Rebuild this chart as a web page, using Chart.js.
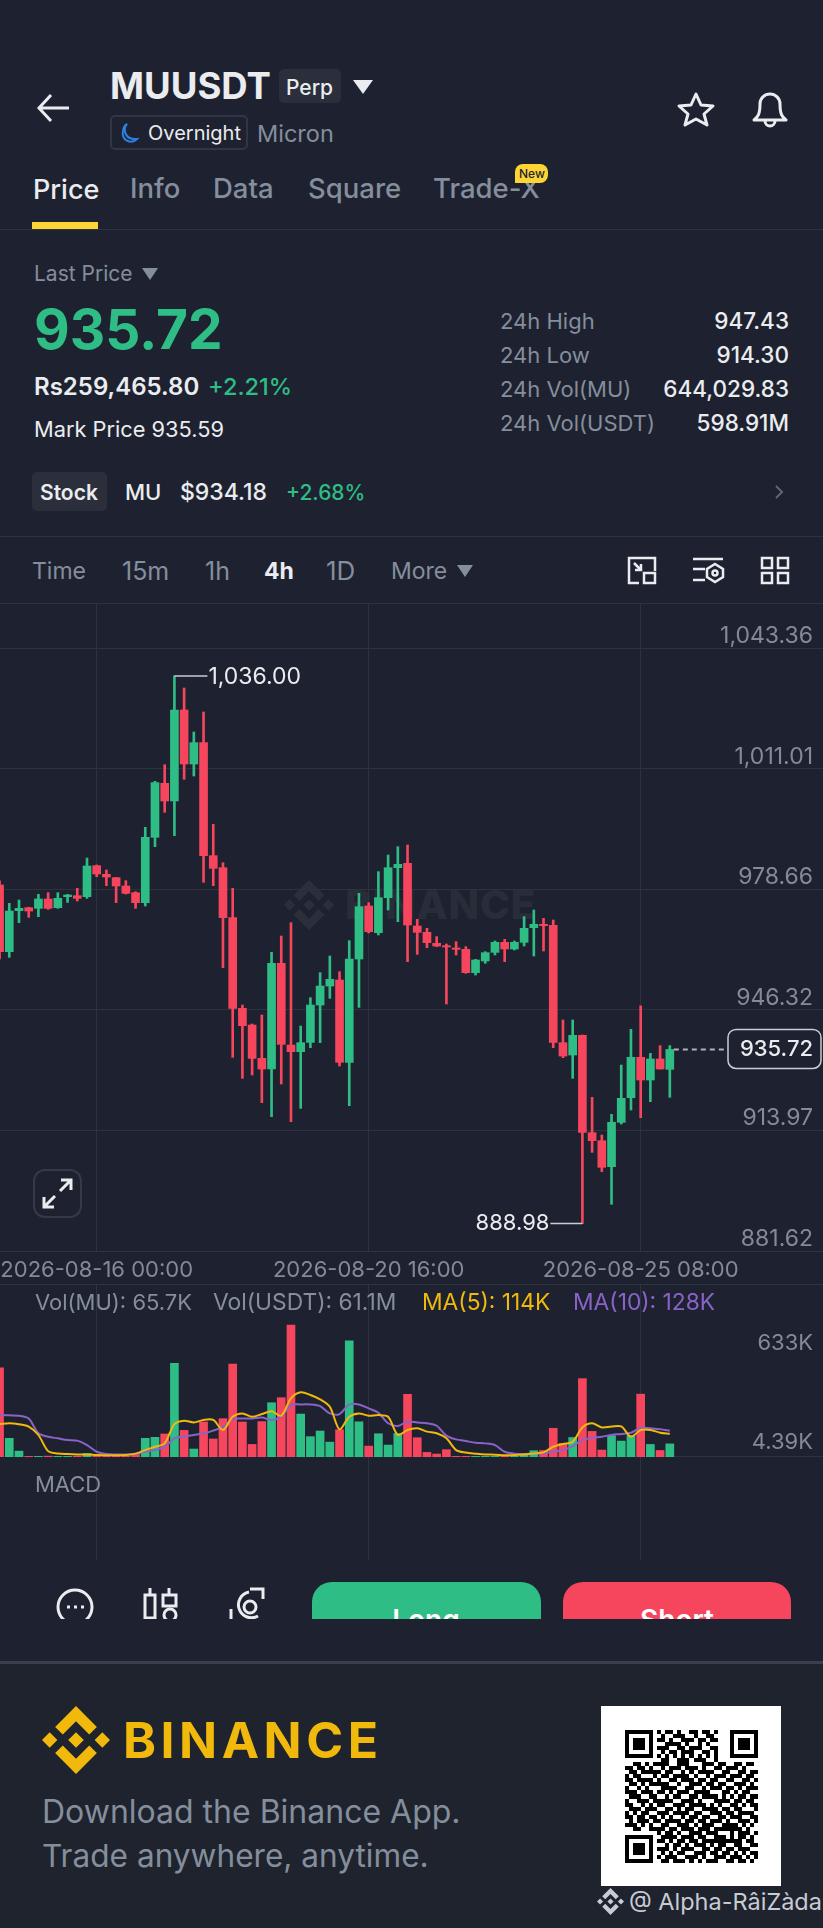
<!DOCTYPE html>
<html>
<head>
<meta charset="utf-8">
<title>MUUSDT</title>
<script src="https://cdn.jsdelivr.net/npm/chart.js@4"></script>
<style>
  html, body { margin: 0; padding: 0; background: #1e2230; }
  body { position: relative; width: 823px; height: 1928px; overflow: hidden; font-family: Inter, "Noto Sans", sans-serif; color: #eaecef; }
  .t { position: absolute; white-space: nowrap; transform: translateY(-50%); line-height: 1; }
  .r { transform: translate(-100%, -50%); }
  .gray { color: #848e9c; }
  .green { color: #2ebd85; }
  .line { position: absolute; left: 0; width: 823px; height: 1px; background: #2d323e; }
  .tri { position: absolute; width: 0; height: 0; border-left: 8px solid transparent; border-right: 8px solid transparent; border-top: 12px solid #848e9c; }
  .box { position: absolute; box-sizing: border-box; border-radius: 5px; }
  svg { position: absolute; overflow: visible; }
  canvas { position: absolute; left: 0; }
  #clip { position: absolute; left: 0; top: 1570px; width: 823px; height: 49px; overflow: hidden; }
</style>
</head>
<body>

<!-- header -->
<svg style="left:37px;top:93px" width="33" height="30" fill="none" stroke="#eaecef" stroke-width="3"><path d="M32 15H2M14 2L2 15l12 13"/></svg>
<div class="t" style="left:110px;top:86px;font-size:36.500px;font-weight:700">MUUSDT</div>
<div class="box" style="left:279px;top:69px;width:62px;height:34px;background:#2a2f3b"></div>
<div class="t" style="left:286px;top:87px;font-size:21px;font-weight:500">Perp</div>
<div class="tri" style="left:353px;top:80px;border-left-width:10px;border-right-width:10px;border-top:14px solid #eaecef"></div>
<div class="box" style="left:110px;top:115px;width:138px;height:35px;border:2px solid #313644"></div>
<svg style="left:120px;top:122px" width="20" height="22" fill="none" stroke="#2f80e0" stroke-width="2"><path d="M7 2C3 7 4 18 17 17C11 23 1 18 3 9C3.500 6 5 3 7 2Z"/></svg>
<div class="t" style="left:148px;top:133px;font-size:20px">Overnight</div>
<div class="t gray" style="left:257px;top:134px;font-size:23.500px">Micron</div>
<svg style="left:677px;top:91px" width="38" height="36" fill="none" stroke="#eaecef" stroke-width="3" stroke-linejoin="round"><path d="M19 3l5 11 12 1-9 8 3 11-11-6-11 6 3-11-9-8 12-1z"/></svg>
<svg style="left:752px;top:90px" width="36" height="38" fill="none" stroke="#eaecef" stroke-width="3" stroke-linejoin="round"><path d="M8 14a10 10 0 0 1 20 0c0 10 2 13 6 16H2c4-3 6-6 6-16zM13 31a5 5 0 0 0 10 0"/></svg>

<!-- tabs -->
<div class="t" style="left:33px;top:189px;font-size:27px;font-weight:500">Price</div>
<div class="t gray" style="left:130px;top:189px;font-size:27.500px;font-weight:500">Info</div>
<div class="t gray" style="left:213px;top:189px;font-size:27.500px;font-weight:500">Data</div>
<div class="t gray" style="left:308px;top:189px;font-size:27.500px;font-weight:500">Square</div>
<div class="t gray" style="left:433px;top:189px;font-size:27.500px;font-weight:500">Trade-X</div>
<div class="box" style="left:515px;top:164px;width:33px;height:19px;background:#fcd535;border-radius:8px 8px 8px 0"></div>
<div class="t" style="left:519px;top:174px;font-size:12px;font-weight:500;color:#1e2230">New</div>
<div style="position:absolute;left:32px;top:222px;width:66px;height:7px;background:#fcd535"></div>
<div class="line" style="top:229px"></div>

<!-- price block -->
<div class="t gray" style="left:34px;top:273px;font-size:21px">Last Price</div>
<div class="tri" style="left:142px;top:268px"></div>
<div class="t green" style="left:34px;top:329px;font-size:55px;font-weight:700">935.72</div>
<div class="t" style="left:34px;top:387px;font-size:24px;font-weight:600">Rs259,465.80</div>
<div class="t green" style="left:208px;top:387px;font-size:23.500px;font-weight:500">+2.21%</div>
<div class="t" style="left:34px;top:430px;font-size:21.800px">Mark Price 935.59</div>

<div class="t gray" style="left:500px;top:321px;font-size:22px">24h High</div>
<div class="t gray" style="left:500px;top:355px;font-size:22px">24h Low</div>
<div class="t gray" style="left:500px;top:389px;font-size:22px">24h Vol(MU)</div>
<div class="t gray" style="left:500px;top:423px;font-size:22px">24h Vol(USDT)</div>
<div class="t r" style="left:789px;top:321px;font-size:22.500px;font-weight:500">947.43</div>
<div class="t r" style="left:789px;top:355px;font-size:22.500px;font-weight:500">914.30</div>
<div class="t r" style="left:789px;top:389px;font-size:22.500px;font-weight:500">644,029.83</div>
<div class="t r" style="left:789px;top:423px;font-size:22.500px;font-weight:500">598.91M</div>

<div class="box" style="left:32px;top:472px;width:75px;height:39px;background:#2a2f3b"></div>
<div class="t" style="left:40px;top:492px;font-size:21px;font-weight:600">Stock</div>
<div class="t" style="left:125px;top:492px;font-size:22px;font-weight:500">MU</div>
<div class="t" style="left:180px;top:492px;font-size:23px;font-weight:500">$934.18</div>
<div class="t green" style="left:286px;top:492px;font-size:21px;font-weight:500">+2.68%</div>
<svg style="left:774px;top:485px" width="10" height="14" fill="none" stroke="#5e6673" stroke-width="2"><path d="M2 1l6 6-6 6"/></svg>
<div class="line" style="top:536px"></div>

<!-- timeframes -->
<div class="t gray" style="left:32px;top:571px;font-size:23px">Time</div>
<div class="t gray" style="left:122px;top:571px;font-size:25px">15m</div>
<div class="t gray" style="left:205px;top:571px;font-size:25px">1h</div>
<div class="t" style="left:264px;top:571px;font-size:23px;font-weight:700">4h</div>
<div class="t gray" style="left:326px;top:571px;font-size:26px">1D</div>
<div class="t gray" style="left:391px;top:571px;font-size:23px">More</div>
<div class="tri" style="left:457px;top:565px"></div>
<svg style="left:627px;top:556px" width="30" height="28" fill="none" stroke="#eaecef" stroke-width="2.500"><path d="M12 27H2V2h26v13M7 7l7 7M14 8v6H8"/><rect x="17" y="17" width="11" height="10"/></svg>
<svg style="left:692px;top:556px" width="32" height="28" fill="none" stroke="#eaecef" stroke-width="2.500"><path d="M1 3h30M1 13h12M1 24h12"/><path d="M23 8l8 5v8l-8 5-8-5v-8z"/><circle cx="23" cy="17" r="2.500"/></svg>
<svg style="left:760px;top:556px" width="29" height="28" fill="none" stroke="#eaecef" stroke-width="2.500"><rect x="2" y="2" width="10" height="10"/><rect x="18" y="2" width="10" height="10"/><rect x="2" y="17" width="10" height="10"/><rect x="18" y="17" width="10" height="10"/></svg>
<div class="line" style="top:603px"></div>

<!-- watermark sits behind the candle canvas -->
<svg style="left:284px;top:880px" width="50" height="50" viewBox="0 0 126.610 126.610" fill="#2a2f3b"><path d="M38.730 53.200l24.590-24.580 24.600 24.600 14.300-14.310L63.320 0 24.430 38.900zM0 63.310l14.300-14.310 14.310 14.310-14.310 14.300zM38.730 73.410l24.590 24.590 24.600-24.600 14.310 14.290-38.900 38.910-38.910-38.880zM98 63.310l14.300-14.310 14.310 14.300-14.310 14.320zM77.830 63.300L63.320 48.780 52.590 59.510l-1.240 1.230-2.540 2.540 14.510 14.500 14.510-14.470z"/></svg>
<div class="t" style="left:345px;top:905px;font-size:40px;font-weight:800;color:#282d39;letter-spacing:1px">BINANCE</div>

<canvas id="candleChart" width="823" height="682" style="top:603px"></canvas>
<canvas id="volChart" width="823" height="275" style="top:1285px"></canvas>
<div class="line" style="top:1284px"></div>

<div class="box" style="left:33px;top:1169px;width:49px;height:49px;border:2px solid #353a47;border-radius:12px"></div>
<svg style="left:42px;top:1178px" width="31" height="31" fill="none" stroke="#eaecef" stroke-width="3"><path d="M18 13L29 2M19 2h10v10M13 18L2 29M2 19v10h10"/></svg>

<!-- indicator legend -->
<div class="t gray" style="left:35px;top:1302px;font-size:22px">Vol(MU): 65.7K</div>
<div class="t gray" style="left:213px;top:1302px;font-size:22.800px">Vol(USDT): 61.1M</div>
<div class="t" style="left:422px;top:1302px;font-size:22.800px;color:#f0b90b">MA(5): 114K</div>
<div class="t" style="left:573px;top:1302px;font-size:22.800px;color:#8a63c9">MA(10): 128K</div>
<div class="t gray" style="left:35px;top:1484px;font-size:22px">MACD</div>

<!-- action bar, cut off by the screenshot -->
<div id="clip">
  <svg style="left:56px;top:17px" width="38" height="40" fill="none" stroke="#eaecef" stroke-width="3"><circle cx="19" cy="20" r="17"/><path d="M11 20h3M18 20h3M25 20h3"/></svg>
  <svg style="left:143px;top:16px" width="36" height="40" fill="none" stroke="#eaecef" stroke-width="3"><rect x="2" y="9" width="10" height="23"/><path d="M7 2v7M7 32v6M26 2v7"/><rect x="20" y="9" width="13" height="11"/><circle cx="27" cy="29" r="6"/></svg>
  <svg style="left:229px;top:17px" width="36" height="40" fill="none" stroke="#eaecef" stroke-width="3"><path d="M21 2h13v10M2 22v12"/><path d="M20 5a13 13 0 1 0 9 24"/><circle cx="21" cy="20" r="6"/></svg>
  <div class="box" style="left:312px;top:12px;width:229px;height:70px;background:#2ebd85;border-radius:20px"></div>
  <div class="box" style="left:563px;top:12px;width:228px;height:70px;background:#f6465d;border-radius:20px"></div>
  <div class="t" style="left:426px;top:50px;font-size:28px;font-weight:600;color:#fff;transform:translate(-50%,-50%)">Long</div>
  <div class="t" style="left:677px;top:50px;font-size:28px;font-weight:600;color:#fff;transform:translate(-50%,-50%)">Short</div>
</div>

<!-- footer -->
<div style="position:absolute;left:0;top:1661px;width:823px;height:3px;background:#3a3f4c"></div>
<div style="position:absolute;left:0;top:1664px;width:823px;height:264px;background:#1e232e"></div>
<svg style="left:42px;top:1706px" width="68" height="68" viewBox="0 0 126.610 126.610" fill="#f0b90b"><path d="M38.730 53.200l24.590-24.580 24.600 24.600 14.300-14.310L63.320 0 24.430 38.900zM0 63.310l14.300-14.310 14.310 14.310-14.310 14.300zM38.730 73.410l24.590 24.590 24.600-24.600 14.310 14.290-38.900 38.910-38.910-38.880zM98 63.310l14.300-14.310 14.310 14.300-14.310 14.320zM77.830 63.300L63.320 48.780 52.590 59.510l-1.240 1.230-2.540 2.540 14.510 14.500 14.510-14.470z"/></svg>
<div class="t" style="left:123px;top:1740px;font-size:50px;font-weight:700;color:#f0b90b;letter-spacing:4.500px">BINANCE</div>
<div class="t gray" style="left:42px;top:1812px;font-size:32px">Download the Binance App.</div>
<div class="t gray" style="left:42px;top:1856px;font-size:31.600px">Trade anywhere, anytime.</div>
<div style="position:absolute;left:601px;top:1706px;width:180px;height:180px;background:#fff"></div>
<svg id="qr" style="left:625px;top:1730px" width="133" height="133" viewBox="0 0 33 33" shape-rendering="crispEdges"></svg>
<svg style="left:597px;top:1888px" width="27" height="27" viewBox="0 0 126.610 126.610" fill="#c7ccd4"><path d="M38.730 53.200l24.590-24.580 24.600 24.600 14.300-14.310L63.320 0 24.430 38.900zM0 63.310l14.300-14.310 14.310 14.310-14.310 14.300zM38.730 73.410l24.590 24.590 24.600-24.600 14.310 14.290-38.900 38.910-38.910-38.880zM98 63.310l14.300-14.310 14.310 14.300-14.310 14.320zM77.830 63.300L63.320 48.780 52.590 59.510l-1.240 1.230-2.540 2.540 14.510 14.500 14.510-14.470z"/></svg>
<div class="t" style="left:629px;top:1902px;font-size:23.500px;color:#c7ccd4">@ Alpha-RâiZàda</div>

<script>
// 4h candles, left to right
const opens = [
  979.87, 961.97, 972.98, 973.78, 973.60, 976.11, 973.78, 976.74, 977.00, 976.74,
  985.06, 982.73, 981.84, 979.60, 977.81, 975.13, 992.67, 1007.16, 1002.42, 1026.85,
  1012.35, 1018.08, 987.74, 984.52, 971.10, 946.76, 942.28, 933.33, 930.47, 958.84,
  936.91, 935.12, 937.63, 947.65, 952.75, 954.36, 932.26, 960.00, 974.23, 967.07,
  976.47, 984.52, 985.69, 968.86, 967.16, 964.21, 963.58, 962.96, 962.60, 956.34,
  959.47, 961.79, 964.48, 962.69, 964.48, 968.42, 969.31, 969.04, 937.54, 934.23,
  939.51, 913.38, 911.23, 904.26, 916.16, 922.78, 933.61, 927.52, 933.16, 930.39
];
const closes = [
  961.97, 972.89, 973.60, 972.89, 976.11, 973.60, 976.29, 977.18, 976.29, 984.97,
  982.82, 982.02, 979.60, 977.63, 975.13, 992.67, 1007.34, 1002.42, 1026.85, 1012.35,
  1018.08, 987.74, 984.34, 971.10, 946.76, 942.10, 933.33, 930.47, 958.84, 937.09,
  935.12, 937.54, 947.65, 952.75, 954.54, 932.26, 960.00, 974.05, 967.34, 976.47,
  984.52, 985.42, 969.13, 967.16, 964.39, 963.49, 963.23, 962.60, 956.34, 959.74,
  961.70, 964.48, 962.69, 964.48, 968.24, 969.31, 968.95, 937.63, 933.96, 939.51,
  913.47, 911.23, 904.08, 916.16, 922.60, 933.61, 927.52, 933.16, 930.48, 935.72
];
const highs = [
  981.00, 974.95, 975.84, 973.90, 977.36, 977.81, 977.81, 977.36, 978.97, 987.12,
  985.24, 983.90, 981.93, 981.03, 978.08, 995.35, 1007.70, 1012.17, 1036.00, 1032.75,
  1020.94, 1026.31, 996.15, 985.86, 978.97, 947.65, 942.55, 944.97, 961.79, 966.17,
  969.75, 942.01, 949.62, 956.33, 960.81, 956.60, 964.92, 977.63, 975.13, 983.45,
  987.92, 990.16, 990.61, 970.65, 968.24, 966.00, 964.03, 964.66, 963.32, 959.91,
  961.97, 964.84, 965.28, 964.84, 971.37, 973.16, 970.92, 970.47, 943.63, 943.63,
  939.60, 922.87, 912.76, 918.31, 931.55, 941.12, 947.43, 934.68, 936.74, 936.74
];
const lows = [
  960.00, 960.45, 969.76, 971.19, 971.37, 973.34, 973.60, 975.21, 975.57, 976.29,
  982.10, 979.69, 975.13, 977.45, 973.60, 974.23, 990.16, 999.38, 993.11, 1008.24,
  1009.13, 980.58, 979.69, 957.67, 933.60, 927.96, 928.86, 921.43, 917.67, 926.44,
  916.33, 919.91, 936.20, 937.54, 949.44, 931.27, 920.63, 947.03, 967.00, 966.45,
  973.16, 970.02, 959.29, 961.26, 963.05, 963.32, 947.92, 961.08, 956.16, 955.71,
  958.84, 961.08, 959.29, 962.42, 963.49, 960.81, 962.15, 936.20, 933.52, 927.97,
  888.98, 908.10, 902.91, 894.14, 915.71, 919.47, 917.41, 921.70, 930.48, 922.87
];
// volume in K
const volumes = [
  429, 92, 31, 6, 6, 7, 6, 6, 7, 20,
  6, 6, 9, 8, 14, 92, 97, 113, 450, 130,
  41, 170, 89, 186, 447, 170, 63, 172, 262, 286,
  633, 208, 100, 127, 74, 133, 557, 171, 55, 114,
  60, 115, 302, 95, 25, 17, 38, 6, 6, 6,
  6, 6, 9, 7, 17, 33, 34, 140, 68, 96,
  377, 125, 36, 105, 79, 105, 303, 63, 34, 65.7
];
const ma5 = [
  160, 164, 159, 148, 108, 31, 20, 17, 15, 15,
  12, 11, 11, 12, 19, 36, 52, 68, 160, 176,
  168, 180, 180, 132, 195, 211, 195, 208, 221, 200,
  283, 312, 299, 278, 243, 135, 195, 211, 200, 203,
  195, 108, 132, 140, 124, 116, 92, 36, 24, 19,
  15, 14, 11, 12, 15, 20, 25, 52, 65, 76,
  144, 164, 144, 148, 149, 100, 132, 132, 119, 114
];
const ma10 = [
  205, 202, 200, 187, 116, 100, 92, 84, 81, 60,
  28, 17, 15, 15, 17, 28, 36, 52, 92, 100,
  108, 116, 129, 148, 184, 187, 187, 191, 180, 195,
  251, 254, 254, 246, 211, 208, 254, 254, 235, 214,
  164, 151, 172, 168, 164, 152, 105, 87, 79, 71,
  68, 60, 28, 19, 17, 20, 20, 28, 36, 55,
  84, 94, 100, 108, 113, 119, 143, 140, 136, 128
];

const priceTicks = [881.62, 913.97, 946.32, 978.66, 1011.01, 1043.36];
const priceLabels = ['881.62', '913.97', '946.32', '978.66', '1,011.01', '1,043.36'];
const timeTicks = [10, 38, 66];
const timeLabels = ['2026-08-16 00:00', '2026-08-20 16:00', '2026-08-25 08:00'];
const volTicks = [4.39, 633];
const volLabels = ['4.39K', '633K'];

const UP = '#2ebd85', DOWN = '#f6465d', GRID = '#2d323e', AXIS_TEXT = '#848a96';
const FONT = 'Inter, "Noto Sans", sans-serif';
const X_MIN = 0.045, X_MAX = 84.77;

const candleColors = opens.map((o, i) => closes[i] >= o ? UP : DOWN);

// keep the plot area edge to edge, labels may not push it in
function noPadding(s) {
  s.paddingTop = 0; s.paddingBottom = 0; s.paddingLeft = 0; s.paddingRight = 0;
}

function sharedX(showLabels) {
  return {
    type: 'linear', min: X_MIN, max: X_MAX, offset: false,
    afterBuildTicks: s => { s.ticks = timeTicks.map(v => ({ value: v })); },
    afterFit: s => { s.height = showLabels ? 34 : 0; noPadding(s); },
    grid: { color: GRID, lineWidth: 1, drawTicks: false, offset: false },
    border: { display: false },
    ticks: {
      display: showLabels, autoSkip: false, maxRotation: 0, padding: 6,
      color: AXIS_TEXT, font: { family: FONT, size: 22 },
      callback: v => timeLabels[timeTicks.indexOf(v)]
    }
  };
}

// labels for the highest and lowest wick plus the live price tag
const priceMarks = {
  id: 'priceMarks',
  afterDatasetsDraw(chart) {
    const { ctx, scales: { x, y } } = chart;
    ctx.save();
    ctx.font = '23px ' + FONT;
    ctx.textBaseline = 'middle';
    ctx.strokeStyle = '#c9ccd2';
    ctx.lineWidth = 1.5;

    const hi = highs.indexOf(Math.max(...highs));
    const hx = x.getPixelForValue(hi), hy = y.getPixelForValue(highs[hi]);
    ctx.beginPath(); ctx.moveTo(hx, hy); ctx.lineTo(hx + 33, hy); ctx.stroke();
    ctx.fillStyle = '#eaecef';
    ctx.textAlign = 'left';
    ctx.fillText('1,036.00', hx + 34, hy + 1);

    const lo = lows.indexOf(Math.min(...lows));
    const lx = x.getPixelForValue(lo), ly = y.getPixelForValue(lows[lo]);
    ctx.beginPath(); ctx.moveTo(lx, ly); ctx.lineTo(lx - 32, ly); ctx.stroke();
    ctx.textAlign = 'right';
    ctx.font = '22px ' + FONT;
    ctx.fillText('888.98', lx - 33, ly);

    const last = closes.length - 1;
    const px = x.getPixelForValue(last), py = y.getPixelForValue(closes[last]);
    ctx.setLineDash([5, 4]);
    ctx.lineWidth = 2;
    ctx.strokeStyle = '#aeb2ba';
    ctx.beginPath(); ctx.moveTo(px + 4, py); ctx.lineTo(728, py); ctx.stroke();
    ctx.setLineDash([]);
    ctx.lineWidth = 1.5;
    ctx.strokeStyle = '#c9ccd2';
    ctx.fillStyle = '#1e2230';
    ctx.beginPath(); ctx.roundRect(728, py - 20, 93, 39, 8); ctx.fill(); ctx.stroke();
    ctx.fillStyle = '#eaecef';
    ctx.font = '500 22px ' + FONT;
    ctx.fillText('935.72', 813, py);
    ctx.restore();
  }
};

new Chart(document.getElementById('candleChart').getContext('2d'), {
  type: 'bar',
  data: {
    datasets: [
      {
        label: 'wick',
        data: lows.map((l, i) => ({ x: i, y: [l, highs[i]] })),
        backgroundColor: candleColors,
        barThickness: 2, grouped: false
      },
      {
        label: 'body',
        data: opens.map((o, i) => ({ x: i, y: [o, closes[i]] })),
        backgroundColor: candleColors,
        barThickness: 8, grouped: false
      }
    ]
  },
  options: {
    responsive: false,
    animation: false,
    layout: { padding: 0 },
    plugins: { legend: { display: false }, tooltip: { enabled: false } },
    scales: {
      x: sharedX(true),
      y: {
        position: 'right', min: 881.62, max: 1055.57,
        afterBuildTicks: s => { s.ticks = priceTicks.map(v => ({ value: v })); },
        afterFit: s => { s.width = 0; noPadding(s); },
        grid: { color: GRID, lineWidth: 1, drawTicks: false },
        border: { display: false },
        ticks: {
          mirror: true, padding: -10, labelOffset: -12,
          color: AXIS_TEXT, font: { family: FONT, size: 23 },
          callback: v => priceLabels[priceTicks.indexOf(v)]
        }
      }
    }
  },
  plugins: [priceMarks]
});

// the two volume labels sit on different sides of their values
const volLabelOffsets = [-14, 18];
const volAxisText = {
  id: 'volAxisText',
  afterDraw(chart) {
    const { ctx, scales: { y } } = chart;
    ctx.save();
    ctx.font = '22px ' + FONT;
    ctx.fillStyle = AXIS_TEXT;
    ctx.textAlign = 'right';
    ctx.textBaseline = 'middle';
    volTicks.forEach((v, i) => ctx.fillText(volLabels[i], 813, y.getPixelForValue(v) + volLabelOffsets[i]));
    ctx.restore();
  }
};

new Chart(document.getElementById('volChart').getContext('2d'), {
  type: 'bar',
  data: {
    datasets: [
      {
        type: 'line', label: 'MA(10)',
        data: ma10.map((v, i) => ({ x: i, y: v })),
        borderColor: '#8a63c9', borderWidth: 2, pointRadius: 0, tension: 0.3, order: 1
      },
      {
        type: 'line', label: 'MA(5)',
        data: ma5.map((v, i) => ({ x: i, y: v })),
        borderColor: '#f0b90b', borderWidth: 2, pointRadius: 0, tension: 0.3, order: 0
      },
      {
        label: 'Vol',
        data: volumes.map((v, i) => ({ x: i, y: [volTicks[0], v] })),
        backgroundColor: candleColors,
        barThickness: 8, grouped: false, order: 2
      }
    ]
  },
  options: {
    responsive: false,
    animation: false,
    layout: { padding: 0 },
    plugins: { legend: { display: false }, tooltip: { enabled: false } },
    scales: {
      x: sharedX(false),
      y: {
        position: 'right', min: -488.7, max: 824,
        afterBuildTicks: s => { s.ticks = volTicks.map(v => ({ value: v })); },
        afterFit: s => { s.width = 0; noPadding(s); },
        grid: { color: c => c.tick && c.tick.value === volTicks[0] ? GRID : 'transparent', drawTicks: false },
        border: { display: false },
        ticks: { display: false }
      }
    }
  },
  plugins: [volAxisText]
});

// QR modules, read by eye; finder squares are laid over them below
const qrRows = [
  '000000001011010011011010000000000', '000000000100111001001100000000000',
  '000000001101001110110110000000000', '000000000011110100101000000000000',
  '000000001110011011100110000000000', '000000000101101110011010000000000',
  '000000001010101010101010000000000', '000000000110011101110010000000000',
  '001101011110011100011101100110110', '110110100101110111010011011101000',
  '011011111011001010111100110011011', '101100010110111101001011101110110',
  '110111101001101110110110011001101', '011010111110010011101101100111010',
  '100101000111100110010111011010111', '111011101101011101111000110101100',
  '011100110010110011011110101011011', '100111011111001110100011110110110',
  '110010101100111011110101001101011', '011101110011010110011110110110001',
  '101011001110111101100111011011110', '110110110101001011011001101110011',
  '010111011011110110110111010011101', '111010100110011101011100111101010',
  '001100111101101110111011111110100', '000000001011010011101110001011101',
  '000000000111101110110011101011010', '000000001101011011011111111110110',
  '000000000010110101110101100110011', '000000001110101110011011011011100',
  '000000000101011001110110110101011', '000000001011100111010011101110101',
  '000000000110111010101110011011010'
];
const qr = document.getElementById('qr');
let qrCells = '';
qrRows.forEach((row, y) => {
  [...row].forEach((c, x) => {
    if (c === '1') qrCells += '<rect x="' + x + '" y="' + y + '" width="1" height="1"/>';
  });
});
[[0, 0], [26, 0], [0, 26]].forEach(([x, y]) => {
  qrCells += '<path fill-rule="evenodd" d="M' + x + ' ' + y + 'h7v7h-7zM' + (x + 1) + ' ' + (y + 1) + 'v5h5v-5z"/>';
  qrCells += '<rect x="' + (x + 2) + '" y="' + (y + 2) + '" width="3" height="3"/>';
});
qr.innerHTML = qrCells;
</script>
</body>
</html>
